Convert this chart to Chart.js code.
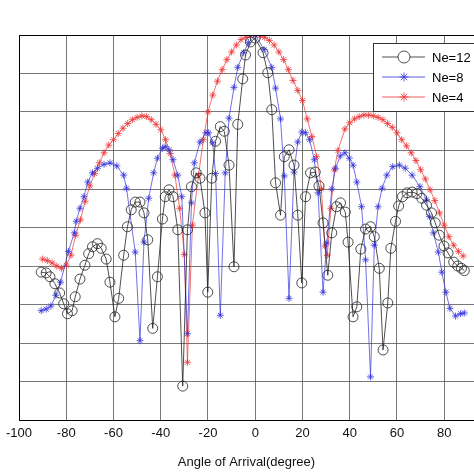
<!DOCTYPE html>
<html>
<head>
<meta charset="utf-8">
<script src="https://cdn.jsdelivr.net/npm/chart.js@4/dist/chart.umd.min.js"></script>
<style>
  html, body { margin: 0; padding: 0; background: #fff; }
  #wrap { width: 474px; height: 474px; }
</style>
</head>
<body>
<div id="wrap"><canvas id="c" width="474" height="474"></canvas></div>
<script>
// Ne=12 (black circles)
const ne12Angle = [-90.6,-88.5,-86.9,-84.8,-82.8,-81.1,-79.5,-77.5,-76.2,-74.2,-72.1,-70.5,-68.9,-66.8,-65.2,-63.1,-61.5,-59.4,-57.8,-55.7,-54.1,-52.5,-50.8,-48.8,-47.1,-45.5,-43.4,-41.4,-39.3,-38.1,-36.5,-34.8,-32.8,-30.7,-28.7,-27.0,-25.0,-23.4,-21.3,-20.1,-18.4,-16.8,-14.8,-13.1,-11.1,-9.0,-7.4,-5.3,-4.1,-2.0,0,3.3,5.3,7.0,8.6,10.7,12.3,14.3,16.4,18.0,19.7,21.3,23.4,25.4,27.0,28.7,30.7,32.4,34.4,36.1,38.1,39.3,41.4,43.0,44.7,46.7,48.8,50.4,52.5,54.1,56.1,57.4,59.4,60.7,62.3,64.3,66.4,68.4,70.5,72.5,74.6,76.2,77.9,79.9,81.6,84.0,85.7,87.3,88.5];
const ne12Gain = [-30.8,-30.9,-31.4,-32.3,-33.5,-34.9,-36.2,-35.8,-34.0,-31.7,-29.9,-28.4,-27.5,-27.1,-27.7,-29.1,-32.1,-36.6,-34.2,-28.6,-24.9,-22.7,-21.7,-21.7,-23.1,-26.6,-38.1,-31.4,-23.9,-21.0,-20.1,-21.0,-25.3,-45.6,-25.3,-19.7,-17.9,-18.6,-23.1,-33.4,-18.6,-13.8,-11.9,-12.5,-16.9,-30.1,-11.6,-5.7,-2.6,-0.9,-0.4,-2.3,-4.9,-9.7,-19.2,-23.4,-15.8,-14.9,-16.9,-23.4,-32.2,-21.0,-17.9,-17.8,-19.6,-24.4,-31.2,-25.7,-22.3,-21.8,-23.0,-26.9,-36.6,-35.3,-27.8,-25.2,-24.9,-26.2,-30.3,-40.9,-34.8,-27.7,-24.2,-22.2,-21.0,-20.5,-20.4,-20.6,-21.2,-22.1,-23.1,-24.4,-26.0,-27.4,-28.3,-29.5,-30.0,-30.3,-30.6];

// Ne=8 (blue stars)
const ne8Angle = [-90.6,-88.5,-86.5,-84.4,-82.4,-79.1,-76.6,-75.8,-74.2,-72.5,-70.9,-68.9,-66.8,-64,-61.5,-58.6,-55.7,-54.5,-50.8,-48.8,-47.1,-45.1,-43,-41.4,-39.3,-38.1,-36.5,-34.8,-32.8,-31.1,-28.7,-27.0,-25.8,-23.4,-20.9,-19.7,-18,-16.8,-14.8,-12.7,-11.1,-9,-7.4,-4.9,-2.9,0,3.7,7,8.6,10.7,12.3,14.3,16.4,18,19.7,21.3,23,25,26.6,28.7,30.3,32.4,34,36,38,39.8,41.4,43,45,46.7,48.8,50.4,52,53.7,55.7,58.2,61,63.5,66.4,69.7,72.5,73.8,75.4,77.5,79,80.7,82.4,84.8,86.9,88.5];
const ne8Gain = [-35.8,-35.6,-35.2,-33.8,-32.1,-28.1,-25.7,-24.2,-22.5,-21.0,-19.1,-17.9,-17.3,-16.8,-16.6,-17.0,-18.2,-19.9,-28.2,-39.7,-26.9,-21.2,-17.9,-16.0,-14.7,-14.5,-14.9,-16.2,-18.2,-21.0,-38.8,-21.8,-16.6,-13.9,-12.7,-12.7,-14.0,-18.0,-36.4,-17.9,-10.8,-6.8,-4.2,-2.3,-1.0,0,-1.9,-4.2,-6.9,-10.9,-18.3,-34.2,-17.8,-13.9,-12.6,-12.7,-13.6,-16.2,-20.5,-33.4,-27.0,-20.0,-17.3,-15.7,-15.3,-16.0,-16.9,-19.1,-22.3,-29.2,-44.4,-27.3,-22.3,-19.9,-18.2,-17.1,-16.9,-17.3,-18.2,-19.7,-21.4,-23.6,-25.7,-28.2,-30.8,-33.4,-35.5,-36.5,-36.2,-36.1];

// Ne=4 (red stars)
const ne4Angle = [-90,-88,-86,-84,-82,-80,-78,-76,-74,-72,-70,-68,-66,-64,-62,-60,-58,-56,-54,-52,-50,-48,-46,-44,-42,-40,-38,-36,-34,-32,-30,-28.7,-26.6,-24,-22,-20,-18,-16,-14,-12,-10,-8,-6,-4,-2,0,2,4,6,8,10,12,14,16,18,20,22,24,26,28,29.5,30.5,32,33.5,35,38,40,42,44,46,48,50,52,54,56,58,60,62,64,66,68,70,72,74,76,78,80,82,84,86,88];
const ne4Gain = [-29.1,-29.3,-29.6,-30.0,-30.3,-29.9,-28.6,-26.0,-24.0,-21.6,-19.6,-18.0,-16.6,-15.3,-14.3,-13.6,-12.8,-12.1,-11.5,-11.0,-10.7,-10.5,-10.6,-11.0,-11.6,-12.3,-13.6,-15.4,-18.2,-22.5,-28.5,-42.5,-24.7,-18.2,-13.6,-10.0,-7.8,-6.0,-4.5,-3.2,-2.2,-1.3,-0.6,-0.3,-0.05,0,-0.1,-0.3,-0.7,-1.3,-2.2,-3.2,-4.5,-5.9,-7.2,-8.5,-10.9,-13.2,-15.8,-20.0,-27.4,-28.6,-22.5,-17.5,-15.0,-12.2,-11.4,-10.9,-10.6,-10.4,-10.4,-10.5,-10.7,-11.0,-11.5,-12.0,-12.7,-13.6,-14.4,-15.3,-16.3,-17.5,-18.7,-20.1,-21.5,-23.1,-24.7,-26.2,-27.3,-28.1,-28.7];

const xTicks = [-100, -80, -60, -40, -20, 0, 20, 40, 60, 80];
const seriesNames = ['Ne=12', 'Ne=8', 'Ne=4'];

const pts = (xs, ys) => xs.map((x, i) => ({ x: x, y: ys[i] }));

const legendBox = {
    id: 'legendBox',
    afterDraw(chart) {
        const ctx = chart.ctx;
        const a = chart.chartArea;
        ctx.save();
        // frame on top/right
        ctx.strokeStyle = '#000';
        ctx.lineWidth = 1;
        ctx.strokeRect(a.left + 0.5, a.top + 0.5, a.right - a.left, a.bottom - a.top);
        // legend
        const x0 = 373, y0 = 43, w = 110, h = 68;
        ctx.fillStyle = '#fff';
        ctx.fillRect(x0, y0, w, h);
        ctx.strokeStyle = '#333';
        ctx.strokeRect(x0 + 0.5, y0 + 0.5, w, h);
        ctx.font = '13px "Liberation Sans", Arial, sans-serif';
        ctx.textBaseline = 'middle';
        chart.data.datasets.forEach((ds, i) => {
            const y = y0 + 14 + i * 20;
            ctx.strokeStyle = ds.borderColor;
            ctx.lineWidth = 0.8;
            ctx.beginPath();
            ctx.moveTo(x0 + 9, y);
            ctx.lineTo(x0 + 52, y);
            ctx.stroke();
            Chart.helpers.drawPoint(ctx, {
                pointStyle: ds.pointStyle, radius: ds.pointRadius + 1,
                borderWidth: 0.8
            }, x0 + 31, y);
            ctx.fillStyle = '#000';
            ctx.fillText(seriesNames[i], x0 + 59, y + 1);
        });
        ctx.restore();
    }
};

new Chart(document.getElementById('c'), {
    type: 'line',
    data: {
        datasets: [
            { label: seriesNames[0], data: pts(ne12Angle, ne12Gain), borderColor: '#222', backgroundColor: 'rgba(0,0,0,0)',
              pointStyle: 'circle', pointRadius: 5, pointBorderWidth: 0.8, borderWidth: 0.8 },
            { label: seriesNames[1], data: pts(ne8Angle, ne8Gain), borderColor: '#3333dd', backgroundColor: '#3333dd',
              pointStyle: 'star', pointRadius: 3.5, pointBorderWidth: 0.8, borderWidth: 0.7 },
            { label: seriesNames[2], data: pts(ne4Angle, ne4Gain), borderColor: '#ee3333', backgroundColor: '#ee3333',
              pointStyle: 'star', pointRadius: 3.5, pointBorderWidth: 0.8, borderWidth: 0.7 }
        ]
    },
    options: {
        responsive: false,
        animation: false,
        devicePixelRatio: 1,
        layout: { autoPadding: false, padding: { left: 4, top: 35, right: 0, bottom: 0 } },
        plugins: { legend: { display: false }, tooltip: { enabled: false } },
        scales: {
            x: {
                type: 'linear', min: -100, max: 92.6,
                afterBuildTicks: s => { s.ticks = xTicks.map(v => ({ value: v })); },
                afterFit: s => { s.height = 54; },
                grid: { color: '#555', lineWidth: 0.8, drawTicks: false },
                border: { color: '#000' },
                ticks: { color: '#111', padding: 6, font: { size: 13, family: '"Liberation Sans", Arial, sans-serif' } },
                title: { display: true, text: 'Angle of Arrival(degree)', color: '#111', padding: { top: 2 },
                         font: { size: 13, family: '"Liberation Sans", Arial, sans-serif' } }
            },
            y: {
                min: -50, max: 0,
                ticks: { display: false, stepSize: 5 },
                afterFit: s => { s.width = 0; },
                grid: { color: '#555', lineWidth: 0.8, drawTicks: false },
                border: { color: '#000' }
            }
        }
    },
    plugins: [legendBox]
});
</script>
</body>
</html>
